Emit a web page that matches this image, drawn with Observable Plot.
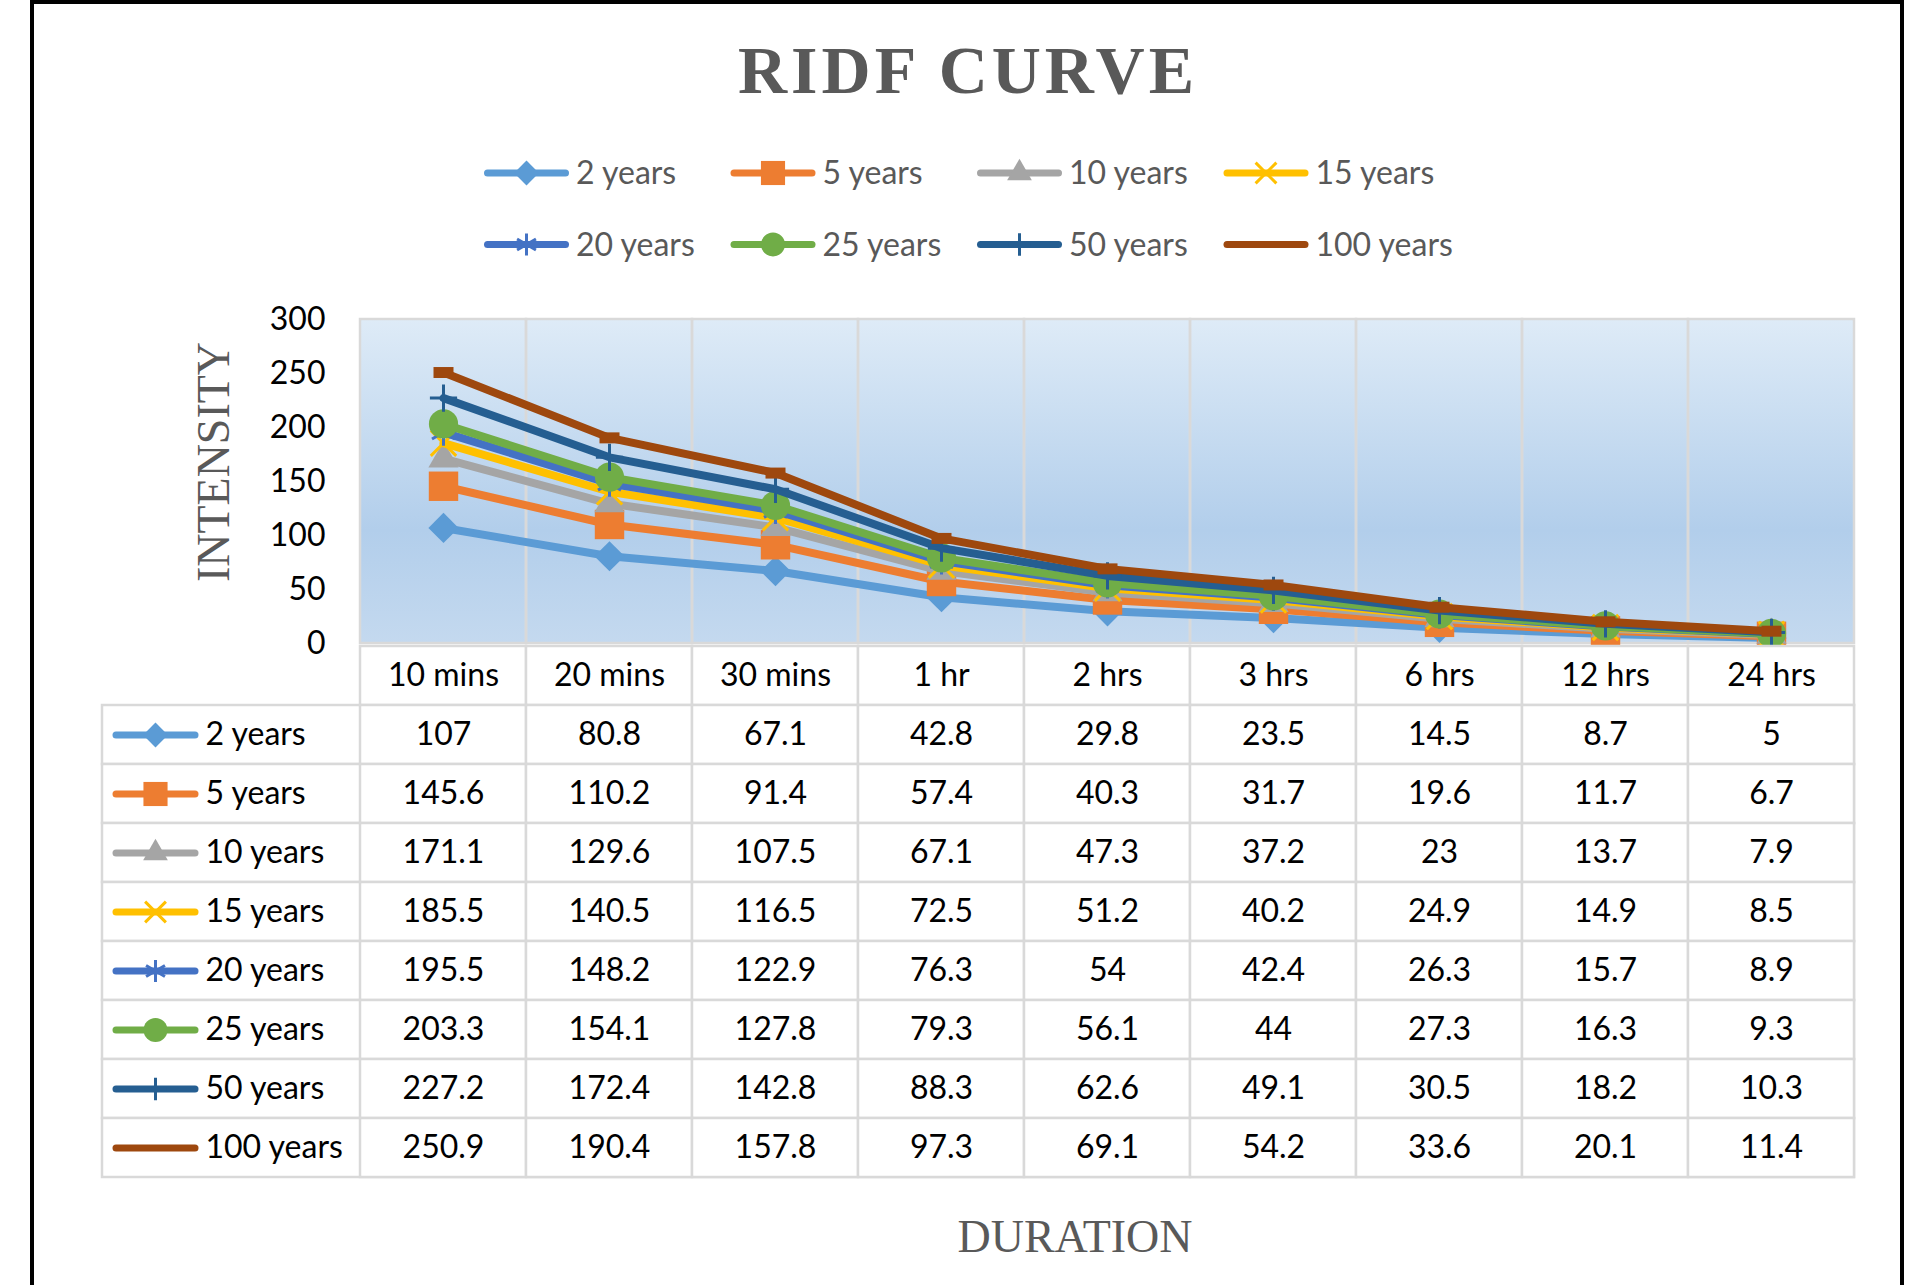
<!DOCTYPE html>
<html><head><meta charset="utf-8">
<script src="https://cdn.jsdelivr.net/npm/d3@7"></script>
<script src="https://cdn.jsdelivr.net/npm/@observablehq/plot@0.6"></script>
<style>
html,body{margin:0;padding:0;background:#fff;}
#page{position:relative;width:1910px;height:1285px;overflow:hidden;font-family:Lato,sans-serif;}
#page > svg{position:absolute;left:0;top:0;}
#frame{position:absolute;left:30px;top:0;width:1874px;height:1400px;border:4px solid #000;border-bottom:none;box-sizing:border-box;}
</style></head><body><div id="page"><div id="frame"></div></div>
<script>
// ---- data ----
const categories = ["10 mins","20 mins","30 mins","1 hr","2 hrs","3 hrs","6 hrs","12 hrs","24 hrs"];
const seriesNames = ["2 years","5 years","10 years","15 years","20 years","25 years","50 years","100 years"];
const years2   = [107, 80.8, 67.1, 42.8, 29.8, 23.5, 14.5, 8.7, 5];
const years5   = [145.6, 110.2, 91.4, 57.4, 40.3, 31.7, 19.6, 11.7, 6.7];
const years10  = [171.1, 129.6, 107.5, 67.1, 47.3, 37.2, 23, 13.7, 7.9];
const years15  = [185.5, 140.5, 116.5, 72.5, 51.2, 40.2, 24.9, 14.9, 8.5];
const years20  = [195.5, 148.2, 122.9, 76.3, 54, 42.4, 26.3, 15.7, 8.9];
const years25  = [203.3, 154.1, 127.8, 79.3, 56.1, 44, 27.3, 16.3, 9.3];
const years50  = [227.2, 172.4, 142.8, 88.3, 62.6, 49.1, 30.5, 18.2, 10.3];
const years100 = [250.9, 190.4, 157.8, 97.3, 69.1, 54.2, 33.6, 20.1, 11.4];
const yTicks = [0, 50, 100, 150, 200, 250, 300];
const titleText = "RIDF CURVE";
const yTitle = "INTENSITY";
const xTitle = "DURATION";

// ---- styles ----
const seriesValues = [years2, years5, years10, years15, years20, years25, years50, years100];
const colors = ["#5B9BD5","#ED7D31","#A5A5A5","#FFC000","#4472C4","#70AD47","#255E91","#9E480E"];
const dashSymbol = {draw(ctx){ ctx.rect(-10, -5.5, 20, 11); }};
const markerSpec = [
  {sym:"diamond2", r:13.6, filled:true},
  {sym:"square", r:16.6, filled:true},
  {sym:"triangle", r:11.2, filled:true},
  {sym:"times", r:11.6, filled:false},
  {sym:"asterisk", r:12.6, filled:false},
  {sym:"circle", r:14.6, filled:true},
  {sym:"plus", r:8.8, filled:false},
  {sym:dashSymbol, r:1, filled:true, chartOnly:true}
];
const legendScale = 0.82;
const iconLine = {draw(ctx){ const L=39.5,t=3.5; ctx.moveTo(-L,-t); ctx.lineTo(L,-t); ctx.arc(L,0,t,-Math.PI/2,Math.PI/2); ctx.lineTo(-L,t); ctx.arc(-L,0,t,Math.PI/2,3*Math.PI/2); ctx.closePath(); }};
const gridColor = "#d9d9d9";
const font = "Lato, sans-serif";

const rows = seriesNames.flatMap((s, i) => categories.map((c, j) => ({series: s, cat: c, value: seriesValues[i][j]})));

function markerDot(data, i, scale, opts) {
  const m = markerSpec[i];
  return Plot.dot(data, {
    ...opts,
    symbol: m.sym,
    r: m.r * scale,
    fill: m.filled ? colors[i] : "none",
    stroke: m.filled ? "none" : colors[i],
    strokeWidth: m.filled ? 0 : 3
  });
}

// ---- chart plot ----
const marksA = [
  Plot.frame({fill: "url(#plotBg)", stroke: "none"}),
  Plot.cell(categories, {x: d => d, fill: "none", stroke: gridColor, strokeWidth: 2.5})
];
seriesNames.forEach((s, i) => {
  const d = rows.filter(r => r.series === s);
  marksA.push(Plot.line(d, {x: "cat", y: "value", stroke: colors[i], strokeWidth: 8, strokeLinecap: "round", strokeLinejoin: "round"}));
  marksA.push(markerDot(d, i, 1, {x: "cat", y: "value"}));
});

const plotA = Plot.plot({
  width: 1910, height: 1285,
  marginLeft: 360, marginRight: 56, marginTop: 319, marginBottom: 642,
  x: {type: "band", domain: categories, padding: 0, axis: null},
  y: {domain: [0, 300], ticks: yTicks, tickSize: 0, tickPadding: 35, label: null},
  style: {background: "transparent", color: "black", fontFamily: font, fontSize: "32px", overflow: "visible"},
  marks: marksA
});
const defs = d3.select(plotA).insert("defs", ":first-child");
const grad = defs.append("linearGradient").attr("id", "plotBg").attr("x1", 0).attr("y1", 0).attr("x2", 0).attr("y2", 1);
grad.append("stop").attr("offset", "0%").attr("stop-color", "#deebf7");
grad.append("stop").attr("offset", "65%").attr("stop-color", "#b2ceeb");
grad.append("stop").attr("offset", "100%").attr("stop-color", "#c4d9ef");

// ---- data table plot ----
const tableY = ["hdr", ...seriesNames];
const marksB = [
  Plot.cell(seriesNames, {y: d => d, fill: "white", stroke: gridColor, strokeWidth: 2.5}),
  Plot.cell(categories, {x: d => d, y: () => "hdr", fill: "white", stroke: gridColor, strokeWidth: 2.5}),
  Plot.cell(rows, {x: "cat", y: "series", fill: "white", stroke: gridColor, strokeWidth: 2.5}),
  Plot.text(categories, {x: d => d, y: () => "hdr", text: d => d, fill: "black"}),
  Plot.text(rows, {x: "cat", y: "series", text: d => String(d.value), fill: "black"}),
  Plot.text(seriesNames, {y: d => d, text: d => d, frameAnchor: "left", dx: 103, textAnchor: "start", fill: "black"})
];
seriesNames.forEach((s, i) => {
  marksB.push(Plot.dot([s], {y: d => d, frameAnchor: "left", dx: 53, symbol: iconLine, r: 1, fill: colors[i], stroke: "none"}));
  if (!markerSpec[i].chartOnly) marksB.push(markerDot([s], i, legendScale, {y: d => d, frameAnchor: "left", dx: 53}));
});
const plotB = Plot.plot({
  width: 1910, height: 1285,
  marginLeft: 102, marginRight: 56, marginTop: 643, marginBottom: 106,
  x: {type: "band", domain: categories, range: [360, 1854], padding: 0, axis: null},
  y: {type: "band", domain: tableY, padding: 0, axis: null},
  style: {background: "transparent", color: "black", fontFamily: font, fontSize: "32px", overflow: "visible"},
  marks: marksB
});

const page = document.getElementById("page");
page.appendChild(plotA);
page.appendChild(plotB);

// ---- title, legend, axis titles ----
const ov = d3.select(page).append("svg").attr("width", 1910).attr("height", 1285);
ov.append("text").attr("x", 968).attr("y", 93).attr("text-anchor", "middle")
  .attr("font-family", "Liberation Serif, serif").attr("font-weight", "bold").attr("font-size", 68)
  .attr("letter-spacing", 4).attr("fill", "#595959").text(titleText);
ov.append("text").attr("transform", "translate(229,462) rotate(-90)").attr("text-anchor", "middle")
  .attr("font-family", "Liberation Serif, serif").attr("font-size", 46).attr("fill", "#595959").text(yTitle);
ov.append("text").attr("x", 1075).attr("y", 1252).attr("text-anchor", "middle")
  .attr("font-family", "Liberation Serif, serif").attr("font-size", 46).attr("fill", "#595959").text(xTitle);

const symMap = {diamond2: d3.symbolDiamond2, square: d3.symbolSquare, triangle: d3.symbolTriangle, times: d3.symbolTimes, asterisk: d3.symbolAsterisk, circle: d3.symbolCircle, plus: d3.symbolPlus};
seriesNames.forEach((s, i) => {
  const col = i % 4, row = Math.floor(i / 4);
  const x0 = 484 + col * 246.5, y = 173 + row * 71.5;
  const g = ov.append("g");
  g.append("line").attr("x1", x0 + 3.5).attr("x2", x0 + 81.5).attr("y1", y).attr("y2", y)
    .attr("stroke", colors[i]).attr("stroke-width", 7).attr("stroke-linecap", "round");
  const m = markerSpec[i];
  if (!m.chartOnly) {
    const rr = m.r * legendScale;
    g.append("path").attr("transform", `translate(${x0 + 42.5},${y})`)
      .attr("d", d3.symbol(symMap[m.sym], Math.PI * rr * rr)())
      .attr("fill", m.filled ? colors[i] : "none")
      .attr("stroke", m.filled ? "none" : colors[i]).attr("stroke-width", m.filled ? 0 : 3);
  }
  g.append("text").attr("x", x0 + 92).attr("y", y).attr("dy", "0.35em")
    .attr("font-family", font).attr("font-size", 32).attr("fill", "#595959").text(s);
});
</script></body></html>
